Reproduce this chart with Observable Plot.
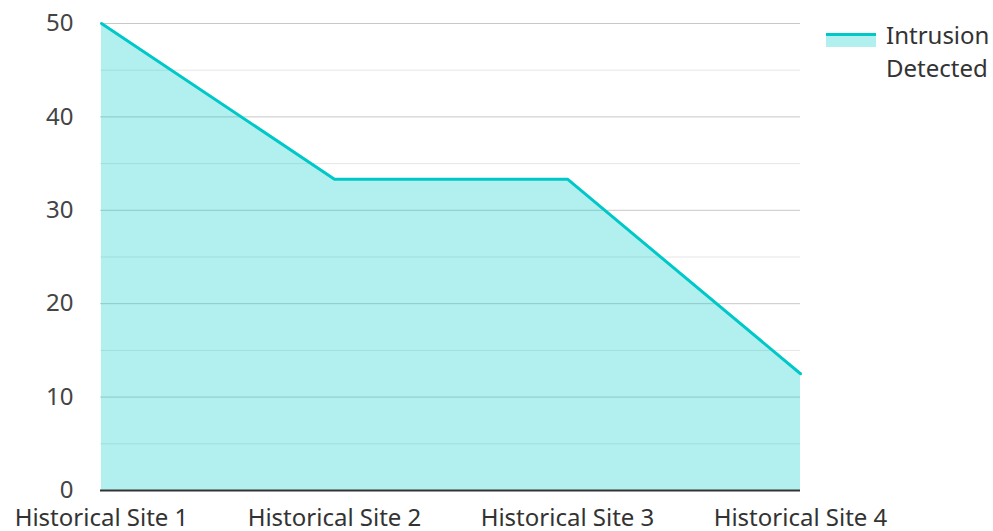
<!DOCTYPE html>
<html>
<head>
<meta charset="utf-8">
<script src="https://cdn.jsdelivr.net/npm/d3@7"></script>
<script src="https://cdn.jsdelivr.net/npm/@observablehq/plot@0.6"></script>
<style>
  html, body { margin: 0; padding: 0; background: #fff; }
  #wrap { position: relative; width: 993px; height: 531px; font-family: 'Noto Sans', sans-serif; }
  #legend { position: absolute; left: 826px; top: 18px; display: flex; align-items: flex-start; color: #333; font-size: 24px; line-height: 33px; }
  #legend .sw { width: 50px; height: 14px; margin-top: 15px; margin-right: 10px; border-top: 3px solid #00c8c8; background: rgba(0,204,204,0.3); box-sizing: border-box; }
</style>
</head>
<body>
<div id="wrap">
  <div id="chart"></div>
  <div id="legend"><div class="sw"></div><div>Intrusion<br>Detected</div></div>
</div>
<script>
const sites = ["Historical Site 1", "Historical Site 2", "Historical Site 3", "Historical Site 4"];
const intrusion = [50, 33.33, 33.33, 12.5];
const yTicks = [0, 10, 20, 30, 40, 50];
const yMinor = [5, 15, 25, 35, 45];

const data = sites.map((s, i) => ({site: s, value: intrusion[i]}));

const chart = Plot.plot({
  width: 993,
  height: 531,
  marginLeft: 100,
  marginRight: 193,
  marginTop: 23,
  marginBottom: 41,
  x: {type: "point", domain: sites, padding: 0, label: null},
  y: {domain: [0, 50], label: null},
  style: {fontFamily: "'Noto Sans', sans-serif", fontSize: "24px", color: "#444", background: "#fff"},
  marks: [
    Plot.ruleY(yMinor, {stroke: "#e6e6e6", strokeWidth: 1}),
    Plot.ruleY(yTicks.filter(d => d > 0), {stroke: "#c8c8c8", strokeWidth: 1}),
    Plot.areaY(data, {x: "site", y: "value", fill: "#00cccc", fillOpacity: 0.3}),
    Plot.lineY(data, {x: "site", y: "value", stroke: "#00c8c8", strokeWidth: 3}),
    Plot.ruleY([0], {stroke: "#333", strokeWidth: 2}),
    Plot.axisY({ticks: yTicks, tickSize: 0, tickPadding: 27, fontSize: 24, fill: "#444", label: null}),
    Plot.axisX({tickSize: 0, tickPadding: 18, fontSize: 24, fill: "#333", label: null})
  ]
});
document.getElementById("chart").appendChild(chart);
</script>
</body>
</html>
